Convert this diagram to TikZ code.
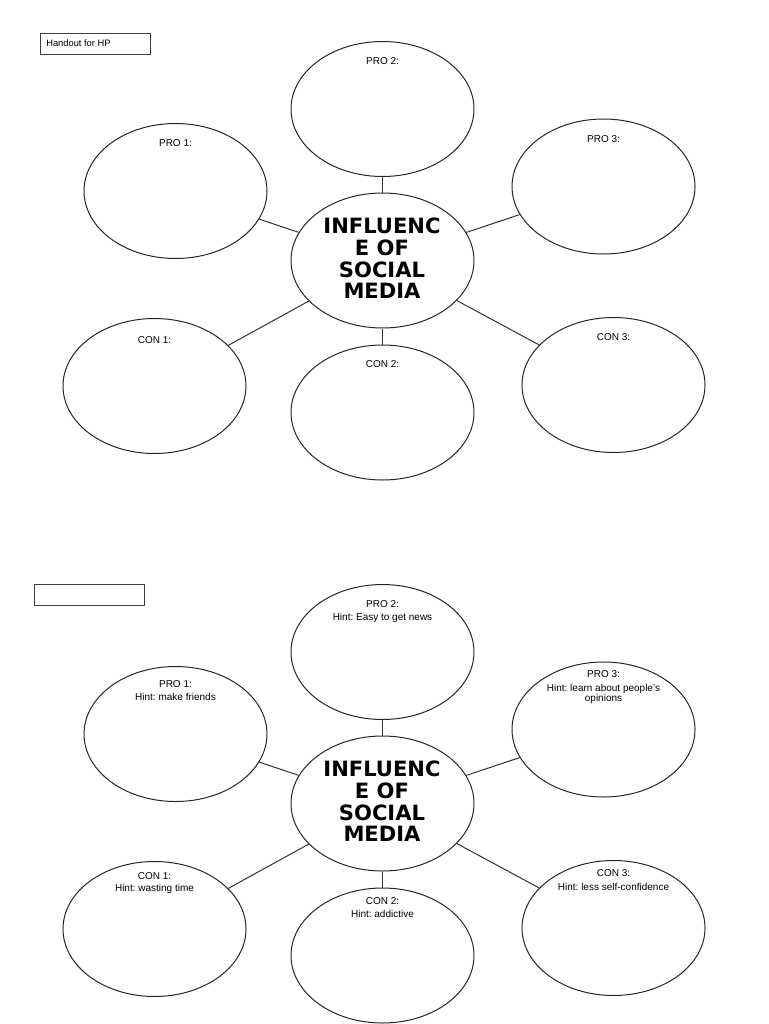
\documentclass[tikz,border=0pt]{standalone}
\usepackage{fontspec}
\setmainfont{Liberation Sans}
\newfontfamily\titlefont{DejaVu Sans}
\usetikzlibrary{shapes.geometric}
\frenchspacing
\tikzset{
  bubble/.style={ellipse, draw=black!85, line width=0.75pt, minimum width=137.25pt, minimum height=101.25pt, inner sep=0pt},
  hub/.style={bubble},
  hubtext/.style={align=center, inner sep=0pt, font=\titlefont\bfseries\fontsize{15.8pt}{16.3pt}\selectfont},
  lbl/.style={font=\fontsize{7.5pt}{7.5pt}\selectfont, inner sep=0pt, align=center},
  link/.style={draw=black!80, line width=0.75pt},
  tag/.style={draw=black!75, line width=0.75pt, minimum width=82.5pt, minimum height=15.75pt, inner sep=0pt, anchor=north west}
}
\begin{document}
\begin{tikzpicture}[x=0.75pt,y=-0.75pt]
\useasboundingbox (0,0) rectangle (768,1024);
% ---------- top diagram ----------
\node[tag] (tagA) at (40,33) {};
\node[font=\fontsize{7pt}{7pt}\selectfont, anchor=west, inner sep=0pt] (tagAtxt) at (46,43.5) {Handout for HP};
\node[hub]    (cA)  at (382.5,260.5) {};
\node[hubtext] (tA) at (382,258.5) {INFLUENC\\E OF\\SOCIAL\\MEDIA};
\node[bubble] (p2A) at (382.5,109) {};
\node[bubble] (p1A) at (175.5,191) {};
\node[bubble] (p3A) at (603.5,186.5) {};
\node[bubble] (c1A) at (154.5,386) {};
\node[bubble] (c2A) at (382.5,412.5) {};
\node[bubble] (c3A) at (613.5,385) {};
\draw[link] (p2A) -- (cA);
\draw[link] (p1A) -- (cA);
\draw[link] (p3A) -- (cA);
\draw[link] (c1A) -- (cA);
\draw[link] (c2A) -- (cA);
\draw[link] (c3A) -- (cA);
\node[lbl] (lp2A) at (382.5,61) {PRO 2:};
\node[lbl] (lp1A) at (175.5,143) {PRO 1:};
\node[lbl] (lp3A) at (603.5,139) {PRO 3:};
\node[lbl] (lc1A) at (154.5,340) {CON 1:};
\node[lbl] (lc2A) at (382.5,364) {CON 2:};
\node[lbl] (lc3A) at (613.5,337) {CON 3:};
% ---------- bottom diagram ----------
\node[tag] (tagB) at (34,584) {};
\node[hub]    (cB)  at (382.5,803.5) {};
\node[hubtext] (tB) at (382,801.5) {INFLUENC\\E OF\\SOCIAL\\MEDIA};
\node[bubble] (p2B) at (382.5,652) {};
\node[bubble] (p1B) at (175.5,734) {};
\node[bubble] (p3B) at (603.5,729.5) {};
\node[bubble] (c1B) at (154.5,929) {};
\node[bubble] (c2B) at (382.5,955.5) {};
\node[bubble] (c3B) at (613.5,928) {};
\draw[link] (p2B) -- (cB);
\draw[link] (p1B) -- (cB);
\draw[link] (p3B) -- (cB);
\draw[link] (c1B) -- (cB);
\draw[link] (c2B) -- (cB);
\draw[link] (c3B) -- (cB);
\node[lbl] (lp2B) at (382.5,604) {PRO 2:};
\node[lbl] (hp2B) at (382.5,618) {Hint: Easy to get news};
\node[lbl] (lp1B) at (175.5,684) {PRO 1:};
\node[lbl] (hp1B) at (175.5,697) {Hint: make friends};
\node[lbl] (lp3B) at (603.5,674) {PRO 3:};
\node[lbl] (hp3B) at (603.5,694) {Hint: learn about people's\\[-0.6pt]opinions};
\node[lbl] (lc1B) at (154.5,876) {CON 1:};
\node[lbl] (hc1B) at (154.5,889) {Hint: wasting time};
\node[lbl] (lc2B) at (382.5,901) {CON 2:};
\node[lbl] (hc2B) at (382.5,914) {Hint: addictive};
\node[lbl] (lc3B) at (613.5,873) {CON 3:};
\node[lbl] (hc3B) at (613.5,887) {Hint: less self-confidence};
\end{tikzpicture}
\end{document}
